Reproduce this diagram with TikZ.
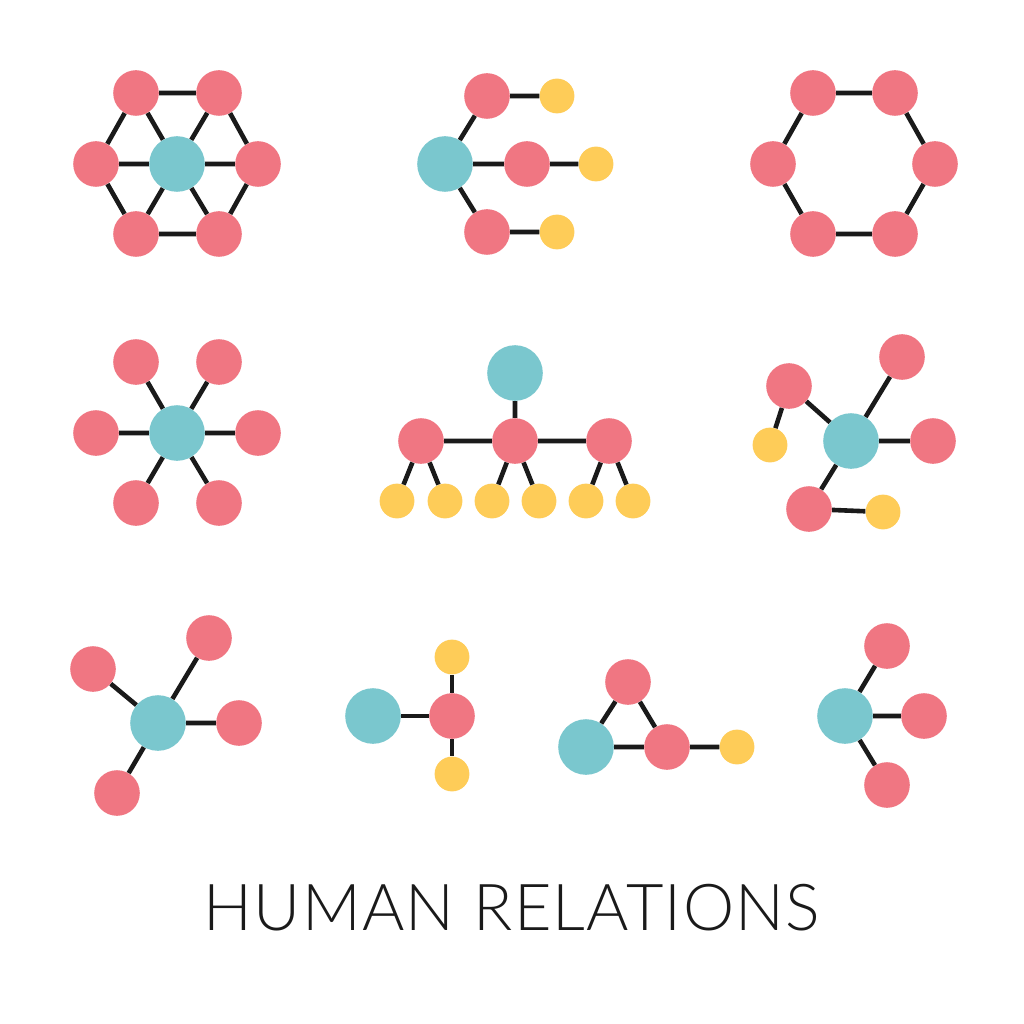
\documentclass[tikz,border=0pt]{standalone}
\usepackage{fontspec}
\newfontfamily\titlefont{Lato Light}[LetterSpace=2]
\definecolor{pinkc}{HTML}{F07682}
\definecolor{tealc}{HTML}{7AC7CE}
\definecolor{yelc}{HTML}{FECC58}
\definecolor{linec}{HTML}{1A1A1A}
\tikzset{
  pk/.style={circle,fill=pinkc,draw=none,inner sep=0pt,minimum size=11.4mm},
  tl/.style={circle,fill=tealc,draw=none,inner sep=0pt,minimum size=13.9mm},
  yl/.style={circle,fill=yelc,draw=none,inner sep=0pt,minimum size=8.7mm},
  ln/.style={draw=linec,line width=1.15mm}
}
\begin{document}
\begin{tikzpicture}[x=0.25mm,y=-0.25mm]
\useasboundingbox[fill=white] (0,0) rectangle (1024,1024);
% graph 1: hexagon with center
\node[tl] (a0) at (177,164) {};
\node[pk] (a1) at (136,93) {};
\node[pk] (a2) at (219,93) {};
\node[pk] (a3) at (258,164) {};
\node[pk] (a4) at (219,234) {};
\node[pk] (a5) at (136,234) {};
\node[pk] (a6) at (96,164) {};
\draw[ln] (a1)--(a2) (a2)--(a3) (a3)--(a4) (a4)--(a5) (a5)--(a6) (a6)--(a1);
\draw[ln] (a0)--(a1) (a0)--(a2) (a0)--(a3) (a0)--(a4) (a0)--(a5) (a0)--(a6);
% graph 2: branching
\node[tl] (b0) at (445,164) {};
\node[pk] (b1) at (487,96) {};
\node[pk] (b2) at (527,164) {};
\node[pk] (b3) at (487,232) {};
\node[yl] (b4) at (557,96) {};
\node[yl] (b5) at (596,164) {};
\node[yl] (b6) at (557,232) {};
\draw[ln] (b0)--(b1) (b0)--(b2) (b0)--(b3) (b1)--(b4) (b2)--(b5) (b3)--(b6);
% graph 3: ring
\node[pk] (c1) at (813,93) {};
\node[pk] (c2) at (895,93) {};
\node[pk] (c3) at (935,164) {};
\node[pk] (c4) at (895,234) {};
\node[pk] (c5) at (813,234) {};
\node[pk] (c6) at (773,164) {};
\draw[ln] (c1)--(c2) (c2)--(c3) (c3)--(c4) (c4)--(c5) (c5)--(c6) (c6)--(c1);
% graph 4: star
\node[tl] (d0) at (177,433) {};
\node[pk] (d1) at (136,362) {};
\node[pk] (d2) at (219,362) {};
\node[pk] (d3) at (258,433) {};
\node[pk] (d4) at (219,503) {};
\node[pk] (d5) at (136,503) {};
\node[pk] (d6) at (96,433) {};
\draw[ln] (d0)--(d1) (d0)--(d2) (d0)--(d3) (d0)--(d4) (d0)--(d5) (d0)--(d6);
% graph 5: tree
\node[tl] (e0) at (515,373) {};
\node[pk] (e1) at (421,441) {};
\node[pk] (e2) at (515,441) {};
\node[pk] (e3) at (609,441) {};
\node[yl] (e4) at (397,501) {};
\node[yl] (e5) at (445,501) {};
\node[yl] (e6) at (492,501) {};
\node[yl] (e7) at (539,501) {};
\node[yl] (e8) at (586,501) {};
\node[yl] (e9) at (633,501) {};
\draw[ln] (e0)--(e2) (e1)--(e2) (e2)--(e3)
  (e1)--(e4) (e1)--(e5) (e2)--(e6) (e2)--(e7) (e3)--(e8) (e3)--(e9);
% graph 6
\node[tl] (f0) at (851,441) {};
\node[pk] (f1) at (789,386) {};
\node[pk] (f2) at (902,357) {};
\node[pk] (f3) at (933,441) {};
\node[pk] (f4) at (809,509) {};
\node[yl] (f5) at (770,445) {};
\node[yl] (f6) at (883,512) {};
\draw[ln] (f5)--(f1) (f1)--(f0) (f0)--(f2) (f0)--(f3) (f0)--(f4) (f4)--(f6);
% graph 7
\node[tl] (g0) at (158,723) {};
\node[pk] (g1) at (93,669) {};
\node[pk] (g2) at (209,638) {};
\node[pk] (g3) at (239,723) {};
\node[pk] (g4) at (117,793) {};
\draw[ln] (g0)--(g1) (g0)--(g2) (g0)--(g3) (g0)--(g4);
% graph 8
\node[tl] (h0) at (373,716) {};
\node[pk] (h1) at (452,716) {};
\node[yl] (h2) at (452,657) {};
\node[yl] (h3) at (452,774) {};
\draw[ln] (h0)--(h1) (h1)--(h2) (h1)--(h3);
% graph 9: triangle
\node[tl] (i0) at (586,747) {};
\node[pk] (i1) at (628,682) {};
\node[pk] (i2) at (667,747) {};
\node[yl] (i3) at (737,747) {};
\draw[ln] (i0)--(i1) (i1)--(i2) (i0)--(i2) (i2)--(i3);
% graph 10
\node[tl] (j0) at (845,716) {};
\node[pk] (j1) at (887,646) {};
\node[pk] (j2) at (924,716) {};
\node[pk] (j3) at (887,785) {};
\draw[ln] (j0)--(j1) (j0)--(j2) (j0)--(j3);
% title
\node[inner sep=0pt,text=linec] (title) at (512,908) {\titlefont\fontsize{46}{46}\selectfont HUMAN RELATIONS};
\end{tikzpicture}
\end{document}
